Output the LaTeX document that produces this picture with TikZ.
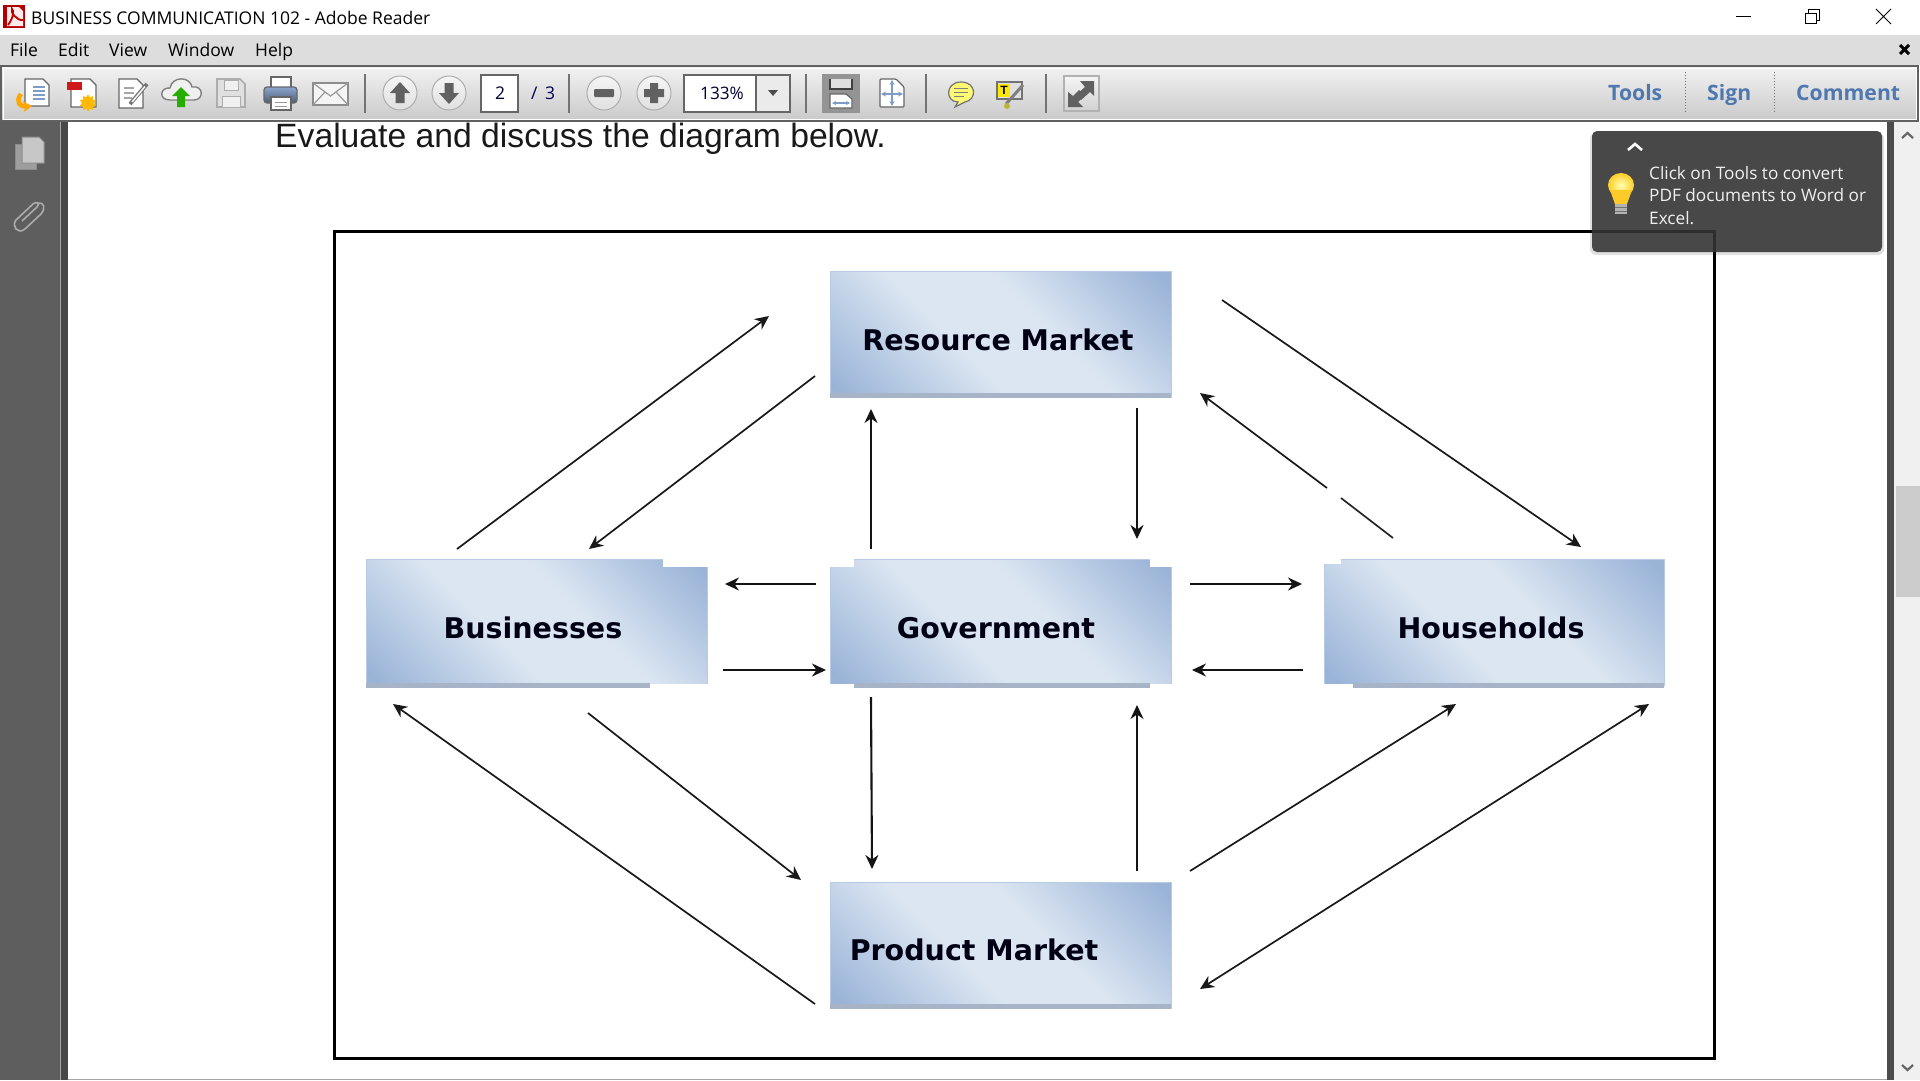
\documentclass[tikz,border=0pt]{standalone}
\usepackage{fontspec}
\setmainfont{Liberation Sans}
\newfontfamily\uifont{Open Sans}
\newfontfamily\boxfont{DejaVu Sans}
\usetikzlibrary{arrows.meta,shapes.geometric}
\definecolor{gradblue}{HTML}{9AB4D8}
\definecolor{gradlight}{HTML}{DCE6F2}
\definecolor{boxshadow}{HTML}{A7B3C6}
\definecolor{barbg}{HTML}{DDDDDD}
\definecolor{sidebg}{HTML}{5E5E5E}
\definecolor{tipbg}{HTML}{484848}
\definecolor{linkblue}{HTML}{4F78AE}
\definecolor{iconblue}{HTML}{7F9CC8}
\pgfdeclarehorizontalshading{boxgrad}{100bp}{color(0bp)=(gradblue); color(17bp)=(gradblue); color(42bp)=(gradlight); color(58bp)=(gradlight); color(83bp)=(gradblue); color(100bp)=(gradblue)}
\newcommand{\fsz}[1]{\fontsize{#1pt}{#1pt}\selectfont}
\tikzset{
  mbox/.style={shading=boxgrad,shading angle=45,inner sep=0pt,minimum width=341pt,minimum height=126pt,text=black!92!blue,font=\boxfont\bfseries\fsz{28.5},draw=gradblue!70,line width=.5pt},
  baseat/.style={text height=#1,text depth=0pt},
  patch/.style={fill=white,draw=none},
  band/.style={fill=boxshadow,draw=none},
  flow/.style={line width=1.7pt,-{Stealth[length=14pt,width=13pt]},black!90},
  flowthick/.style={line width=2.1pt,-{Stealth[length=14pt,width=13pt]},black!92},
  flowplain/.style={line width=1.7pt,black!85},
  flowboth/.style={line width=1.7pt,{Stealth[length=14pt,width=13pt]}-{Stealth[length=14pt,width=13pt]},black!90},
  uitext/.style={inner sep=0pt,anchor=base west,font=\uifont\fsz{17.5},text=black},
  linktext/.style={inner sep=0pt,anchor=base west,font=\uifont\bfseries\fsz{21.2},text=linkblue},
  sep/.style={draw=black!55,line width=1.2pt},
  docshape/.style={fill=white,draw=black!60,line width=1.2pt},
  navbtn/.style={circle,minimum size=34pt,inner sep=0pt,draw=black!32,line width=1pt,top color=white!96!black,bottom color=black!12},
  fieldbox/.style={fill=white,draw=black!60,line width=1.2pt}
}
\begin{document}
\begin{tikzpicture}[x=1pt,y=-1pt]
\useasboundingbox (0,0) rectangle (1920,1080);
% page and window chrome
\fill[white] (0,0) rectangle (1920,1080);
\fill[barbg] (0,35) rectangle (1920,65);
\fill[sidebg] (0,121) rectangle (61,1080);
\fill[black!72] (61,121) rectangle (68,1080);
\draw[black!35,line width=1pt] (60.5,121) -- (60.5,1080);
\fill[black!70] (1887,121) rectangle (1894,1080);
\fill[black!6] (1894,121) rectangle (1920,1080);
\fill[black!20] (1896,486) rectangle (1920,597);
\draw[black!60,line width=2.2pt] (1902,138) -- (1907.5,133) -- (1913,138);
\draw[black!60,line width=2.2pt] (1902,1065) -- (1907.5,1070) -- (1913,1065);
\draw[black!35,line width=1pt] (68,1079.5) -- (1887,1079.5);
% toolbar
\shade[top color=black!5,bottom color=black!21] (1,66) rectangle (1918,121);
\draw[black!62,line width=1.3pt] (1,66) rectangle (1918,121);
\draw[white,line width=1pt] (3,68) rectangle (1916,119);
% title bar
\fill[red!70!black] (3,5) rectangle (25,28);
\fill[white!92!red] (7,7) -- (19,7) -- (23,11) -- (23,26) -- (7,26) -- cycle;
\draw[red!75!black,line width=1.8pt] (8,25) .. controls (14,17) and (14,10) .. (12,9) .. controls (10,12) and (17,21) .. (23,20);
\node[uitext,font=\uifont\fsz{17.5}] (titletext) at (31,24.5) {BUSINESS COMMUNICATION 102 - Adobe Reader};
\draw[black,line width=1pt] (1736,16.5) -- (1751,16.5);
\draw[black,line width=1pt] (1805.5,13.5) rectangle (1816.5,23.5);
\draw[black,line width=1pt] (1808.5,13) -- (1808.5,9.5) -- (1819.5,9.5) -- (1819.5,20) -- (1817,20);
\draw[black,line width=1pt] (1876,9) -- (1891,24) (1891,9) -- (1876,24);
\draw[black,line width=3pt] (1900,45) -- (1909,54) (1909,45) -- (1900,54);
% menu
\node[uitext] (mfile) at (10,56) {File};
\node[uitext] (medit) at (58,56) {Edit};
\node[uitext] (mview) at (109,56) {View};
\node[uitext] (mwindow) at (168,56) {Window};
\node[uitext] (mhelp) at (255,56) {Help};
% toolbar icons
\draw[docshape] (25,79) -- (43,79) -- (49,85) -- (49,106) -- (25,106) -- cycle;
\draw[iconblue,line width=1.6pt] (33,87) -- (45,87) (33,91) -- (45,91) (33,95) -- (45,95) (33,99) -- (45,99);
\draw[orange!70!yellow,line width=4.5pt,-{Stealth[length=9pt,width=11pt]}] (21,94) .. controls (15,102) and (20,107) .. (32,106);
\draw[docshape] (71,79) -- (90,79) -- (96,85) -- (96,107) -- (71,107) -- cycle;
\fill[red!78!black!90] (67,82) rectangle (82,90);
\node[star,star points=10,star point ratio=1.4,fill=orange!55!yellow,inner sep=0pt,minimum size=17pt] (sealicon) at (88,103) {};
\draw[docshape] (119,79) -- (137,79) -- (143,85) -- (143,108) -- (119,108) -- cycle;
\draw[black!35,line width=1.1pt] (124,88) -- (134,88) (124,93) -- (134,93) (124,98) -- (132,98);
\draw[black!55,line width=3.8pt] (130,104) -- (147,84);
\draw[white,line width=1.4pt] (132,102) -- (145,86.5);
\draw[black!50,line width=1.4pt,fill=white!94!black] (170,100) .. controls (158,100) and (160,87) .. (170,88) .. controls (172,76) and (190,76) .. (192,87) .. controls (204,85) and (204,100) .. (194,100) -- cycle;
\fill[green!62!black!85!yellow] (181,87) -- (190,96) -- (185,96) -- (185,107) -- (177,107) -- (177,96) -- (172,96) -- cycle;
\draw[black!32,fill=black!12,line width=1.6pt] (217,79) -- (240,79) -- (245,84) -- (245,107) -- (217,107) -- cycle;
\draw[black!32,fill=black!6,line width=1pt] (224,80) rectangle (238,90);
\draw[black!32,fill=black!6,line width=1pt] (222,96) rectangle (240,107);
\draw[black!60,fill=white,line width=1.4pt] (271,77) rectangle (291,88);
\draw[black!60,top color=iconblue!90,bottom color=iconblue!60!black,line width=1.2pt,rounded corners=3pt] (264,87) rectangle (297,103);
\draw[black!60,fill=white,line width=1.4pt] (271,97) rectangle (291,110);
\draw[black!40,line width=1pt] (275,102) -- (287,102) (275,106) -- (287,106);
\draw[black!45,fill=black!4,line width=1.5pt] (313,83) rectangle (348,105);
\draw[black!40,line width=1.2pt] (313,83) -- (330.5,96) -- (348,83) (313,105) -- (325,92) (348,105) -- (336,92);
\draw[sep] (365,74) -- (365,113);
\node[navbtn] (navup) at (400,93) {};
\node[navbtn] (navdown) at (449,93) {};
\fill[black!62] (400,82) -- (410,93) -- (404.5,93) -- (404.5,103) -- (395.5,103) -- (395.5,93) -- (390,93) -- cycle;
\fill[black!62] (449,104) -- (439,93) -- (444.5,93) -- (444.5,83) -- (453.5,83) -- (453.5,93) -- (459,93) -- cycle;
\draw[fieldbox] (481,75) rectangle (518,112);
\node[uitext,text=black!80!blue] (pagenum) at (495,99.5) {2};
\node[uitext,text=black!70!blue] (pagetotal) at (531,99.5) {/ \hspace{3pt}3};
\draw[sep] (569,74) -- (569,113);
\node[navbtn] (zoomout) at (604,93) {};
\node[navbtn] (zoomin) at (654,93) {};
\fill[black!62,rounded corners=1pt] (594,89) rectangle (614,97);
\fill[black!62] (644,89) rectangle (664,97) (650,83) rectangle (658,103);
\fill[black!8] (756,75) rectangle (790,112);
\draw[fieldbox,fill=none] (684,75) rectangle (790,112);
\fill[white] (685,76) rectangle (756,111);
\draw[black!60,line width=1.2pt] (756,75) -- (756,112);
\node[uitext,font=\uifont\fsz{17.2},text=black!80!blue] (zoomlevel) at (700,99.5) {133\%};
\fill[black!70] (768,90) -- (778,90) -- (773,96) -- cycle;
\draw[sep] (806,74) -- (806,113);
\fill[black!42] (822,74) rectangle (860,113);
\draw[black!75,line width=1.2pt,fill=black!12] (830,79) -- (830,89) -- (852,89) -- (852,79);
\draw[docshape,fill=white] (830,94) -- (846,94) -- (852,99) -- (852,108) -- (830,108) -- cycle;
\draw[iconblue,line width=1.5pt,{Stealth[length=4pt,width=4pt]}-{Stealth[length=4pt,width=4pt]}] (832,103) -- (850,103);
\draw[docshape,fill=white,rounded corners=1pt] (880,79) -- (896,79) -- (904,87) -- (904,107) -- (880,107) -- cycle;
\draw[iconblue,line width=1.3pt,{Stealth[length=5pt,width=5pt]}-{Stealth[length=5pt,width=5pt]}] (892,80) -- (892,106);
\draw[iconblue,line width=1.3pt,{Stealth[length=5pt,width=5pt]}-{Stealth[length=5pt,width=5pt]}] (881,94) -- (903,94);
\draw[sep] (926,74) -- (926,113);
\draw[black!55,fill=yellow!55,line width=1.2pt] (961,82) .. controls (945,82) and (945,102) .. (958,102) -- (955,107) -- (965,102) .. controls (977,100) and (977,82) .. (961,82) -- cycle;
\draw[black!50,line width=1pt] (954,88) -- (968,88) (954,92) -- (968,92) (954,96) -- (964,96);
\draw[black!55,fill=black!12,line width=1.2pt] (997,82) rectangle (1022,99);
\fill[yellow!90!orange] (998,84) rectangle (1010,97);
\node[inner sep=0pt,font=\fsz{12}\bfseries] (highlightT) at (1004,90.5) {T};
\draw[black!50,line width=3pt] (1006,104) -- (1023,85);
\fill[yellow!70!black] (1007,106) circle (3pt);
\draw[sep] (1046,74) -- (1046,113);
\draw[black!30,top color=black!4,bottom color=black!18,line width=1.4pt] (1064,76) rectangle (1099,111);
\fill[black!62] (1094,81) -- (1094,96) -- (1090,92) -- (1081,100) -- (1076,95) -- (1085,87) -- (1080,81) -- cycle;
\fill[black!62] (1068,107) -- (1068,92) -- (1073,96) -- (1079,90) -- (1085,95) -- (1078,102) -- (1083,107) -- cycle;
\node[linktext] (toolsbtn) at (1608,100.5) {Tools};
\node[linktext] (signbtn) at (1707,100.5) {Sign};
\node[linktext] (commentbtn) at (1796,100.5) {Comment};
\draw[black!55,line width=1pt,dotted] (1685,72) -- (1685,113);
\draw[black!55,line width=1pt,dotted] (1774,72) -- (1774,113);
% sidebar icons
\draw[black!45,fill=black!38,line width=1pt] (15,144) rectangle (36,169);
\draw[black!45,fill=black!22,line width=1pt] (22,137) -- (39,137) -- (44,142) -- (44,163) -- (22,163) -- cycle;
\draw[black!33,line width=1.6pt,line join=round] (22,221) -- (37,207) .. controls (41,203) and (36,201) .. (33,204) -- (16,220) .. controls (11,226) and (18,235) .. (25,229) -- (41,214) .. controls (46,208) and (44,202) .. (38,203);
% question text
\node[inner sep=0pt,anchor=base west,font=\fsz{33.7},text=black!90] (question) at (275,147) {Evaluate and discuss the diagram below.};
% diagram frame
\draw[black,line width=3pt] (334,231) rectangle (1714,1058);
% boxes
\node[mbox,baseat=32pt] (resource) at (1000.5,334) {Resource Market\kern5pt};
\fill[band] (830,393) rectangle (1171,397.5);
\node[mbox,baseat=32pt] (business) at (536.5,622) {Businesses\kern7pt};
\fill[band] (366,683) rectangle (650,687.5);
\fill[patch] (663,556) rectangle (708,567);
\fill[patch] (650,684) rectangle (708,688);
\node[mbox,baseat=32pt] (government) at (1000.5,622) {Government\kern9pt};
\fill[band] (854,683) rectangle (1150,687.5);
\fill[patch] (829,556) rectangle (854,567);
\fill[patch] (1150,556) rectangle (1172,567);
\fill[patch] (829,684) rectangle (854,688);
\fill[patch] (1150,684) rectangle (1172,688);
\node[mbox,minimum width=340pt,baseat=32pt] (household) at (1494,622) {Households\kern6pt};
\fill[band] (1353,683) rectangle (1664,687.5);
\fill[patch] (1323,556) rectangle (1341,564);
\fill[patch] (1323,684) rectangle (1353,688);
\node[mbox,baseat=30pt] (product) at (1000.5,945) {Product Market\kern53pt};
\fill[band] (830,1004) rectangle (1171,1008.5);
% connector ends
\coordinate (a1s) at (457,549); \coordinate (a1e) at (769,316);
\coordinate (a2s) at (815,376); \coordinate (a2e) at (589,549);
\coordinate (a3s) at (1222,300); \coordinate (a3e) at (1581,547);
\coordinate (a4s) at (1393,538); \coordinate (a4g) at (1341,498);
\coordinate (a4h) at (1327,488); \coordinate (a4e) at (1200,393);
\coordinate (a5s) at (871,549); \coordinate (a5e) at (871,409);
\coordinate (a6s) at (1137,408); \coordinate (a6e) at (1137,539);
\coordinate (a7s) at (816,584); \coordinate (a7e) at (725,584);
\coordinate (a8s) at (723,670); \coordinate (a8e) at (826,670);
\coordinate (a9s) at (1190,584); \coordinate (a9e) at (1302,584);
\coordinate (a10s) at (1303,670); \coordinate (a10e) at (1192,670);
\coordinate (a11s) at (871,697); \coordinate (a11e) at (872,869);
\coordinate (a12s) at (1137,871); \coordinate (a12e) at (1137,705);
\coordinate (a13s) at (815,1004); \coordinate (a13e) at (393,704);
\coordinate (a14s) at (588,713); \coordinate (a14e) at (801,880);
\coordinate (a15s) at (1190,871); \coordinate (a15e) at (1456,704);
\coordinate (a16s) at (1200,989); \coordinate (a16e) at (1649,704);
% connectors
\draw[flow] (a1s) -- (a1e);
\draw[flow] (a2s) -- (a2e);
\draw[flow] (a3s) -- (a3e);
\draw[flowplain] (a4s) -- (a4g);
\draw[flow] (a4h) -- (a4e);
\draw[flowthick] (a5s) -- (a5e);
\draw[flowthick] (a6s) -- (a6e);
\draw[flowthick] (a7s) -- (a7e);
\draw[flowthick] (a8s) -- (a8e);
\draw[flowthick] (a9s) -- (a9e);
\draw[flowthick] (a10s) -- (a10e);
\draw[flowthick] (a11s) -- (a11e);
\draw[flowthick] (a12s) -- (a12e);
\draw[flow] (a13s) -- (a13e);
\draw[flow] (a14s) -- (a14e);
\draw[flow] (a15s) -- (a15e);
\draw[flowboth] (a16s) -- (a16e);
% tooltip
\fill[black,opacity=.12,rounded corners=6pt] (1590,133) rectangle (1884,255);
\fill[tipbg,rounded corners=5pt] (1592,131) rectangle (1882,252);
\draw[black!82,line width=3pt] (1592,231) -- (1714,231) -- (1714,252);
\draw[white,line width=2.6pt] (1628,150) -- (1635,144) -- (1642,150);
\shade[inner color=yellow!30!white,outer color=yellow!55!orange!85!white] (1621,185) ellipse (13pt and 12pt);
\fill[yellow!55!orange!85!white] (1610,190) -- (1632,190) -- (1627,204) -- (1615,204) -- cycle;
\fill[black!30] (1615,204) rectangle (1627,214);
\draw[black!55,line width=1pt] (1615,207) -- (1627,207) (1615,211) -- (1627,211);
\node[uitext,font=\uifont\fsz{17.2},text=black!6] (tip1) at (1649,179) {Click on Tools to convert};
\node[uitext,font=\uifont\fsz{17.2},text=black!6] (tip2) at (1649,201.5) {PDF documents to Word or};
\node[uitext,font=\uifont\fsz{17.2},text=black!6] (tip3) at (1649,224) {Excel.};
\end{tikzpicture}
\end{document}
